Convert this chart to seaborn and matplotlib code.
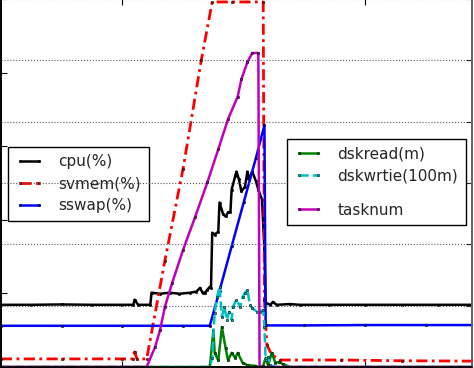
import matplotlib
matplotlib.use("Agg")
import matplotlib.pyplot as plt
import seaborn as sns
from matplotlib.lines import Line2D

# ---- data (time in s; left axis in %, right axis in units) ----
cpu_t = [100, 125, 150, 175, 200, 209, 210, 213, 223, 224, 231, 239, 247, 256, 261, 264, 266, 268,
         270, 272, 273, 274, 276, 279, 280, 283, 285, 287, 289, 290, 293, 294, 296, 298, 301, 303,
         304, 305, 307, 310, 312, 315, 317, 318, 322, 324, 327, 338, 346, 370, 400, 430, 460, 488]
cpu_v = [16.9, 16.9, 17.0, 16.9, 16.9, 16.9, 18.3, 16.9, 16.9, 20.2, 19.9, 20.2, 19.9, 20.2, 20.5,
         21.5, 20.2, 20.2, 21.0, 21.8, 21.5, 36.5, 36.0, 36.8, 44.7, 41.5, 40.9, 42.0, 42.2, 48.2,
         52.0, 53.1, 51.0, 47.7, 49.0, 53.1, 51.0, 51.8, 53.1, 50.5, 48.2, 45.5, 32.0, 17.4, 16.9,
         17.7, 16.9, 17.1, 16.9, 16.9, 16.9, 16.9, 16.9, 16.9]

svmem_t = [100, 150, 200, 209, 210, 212, 220, 235, 250, 265, 274, 290, 316, 317, 319, 323, 330,
           380, 430, 488]
svmem_v = [2.2, 2.2, 2.2, 2.2, 4.1, 2.2, 2.2, 28.9, 53.9, 83.4, 99.2, 99.2, 99.2, 18.3, 6.0, 3.3,
           1.9, 1.9, 1.7, 1.6]

sswap_t = [100, 150, 200, 250, 272, 280, 290, 300, 310, 317, 318, 350, 400, 450, 488]
sswap_v = [11.2, 11.2, 11.2, 11.2, 11.2, 20.7, 32.8, 44.8, 56.8, 65.7, 11.3, 11.3, 11.4, 11.4, 11.4]

dskread_t = [100, 150, 200, 250, 272, 275, 276, 279, 282, 285, 287, 290, 293, 295, 299, 303, 309,
             313, 316, 318, 320, 323, 326, 329, 332, 338, 380, 430, 488]
dskread_v = [0, 0, 0, 0, 0, 6.0, 2.3, 1.1, 6.5, 3.1, 1.1, 2.3, 1.5, 2.3, 0.7, 0.3, 0.2, 0, 0.2,
             1.5, 0.3, 2.3, 0.7, 0.8, 0.5, 0, 0, 0, 0]

dskwrtie_t = [100, 150, 200, 250, 272, 274, 276, 278, 280, 282, 284, 286, 288, 290, 291, 294, 297,
              299, 301, 303, 305, 307, 311, 313, 316, 317, 318, 320, 322, 326, 380, 430, 488]
dskwrtie_v = [0, 0, 0, 0, 0, 1.5, 8.8, 11.4, 13.1, 8.2, 9.8, 7.7, 9.0, 7.7, 9.8, 11.0, 9.8, 11.4,
              12.1, 12.6, 10.1, 9.6, 9.0, 9.0, 9.3, 6.5, 1.1, 1.6, 0.3, 0, 0, 0, 0]

tasknum_t = [100, 150, 200, 220, 227, 231, 235, 241, 250, 260, 270, 279, 287, 295, 298, 303, 307,
             312, 313, 350, 400, 450, 488]
tasknum_v = [0, 0, 0, 0, 3.3, 6.0, 9.8, 13.7, 19.1, 24.5, 30.1, 35.5, 40.4, 44.1, 46.9, 49.7, 51.2,
             51.2, 0, 0, 0, 0, 0]

left_labels = ["cpu(%)", "svmem(%)", "sswap(%)"]
right_labels = ["dskread(m)", "dskwrtie(100m)", "", "tasknum"]

# ---- figure ----
sns.set_style("white")
plt.rcParams["font.family"] = ["DejaVu Sans"]
fig = plt.figure(figsize=(4.74, 3.68), dpi=100)
ax = fig.add_axes([1 / 474, 1 / 368, 471 / 474, 368 / 368])
ax2 = ax.twinx()

mk = dict(marker=".", markersize=3.5, markeredgecolor="k", markeredgewidth=0.4)
common = dict(estimator=None, sort=False, legend=False)
dashdot = (0, (4, 1.6, 1, 1.6))

sns.lineplot(x=cpu_t, y=cpu_v, ax=ax, color="k", linewidth=1.8, **common, **mk)
sns.lineplot(x=svmem_t, y=svmem_v, ax=ax, color="r", linewidth=2.0, linestyle=dashdot, **common, **mk)
sns.lineplot(x=sswap_t, y=sswap_v, ax=ax, color="b", linewidth=1.8, **common, **mk)

sns.lineplot(x=dskread_t, y=dskread_v, ax=ax2, color="g", linewidth=1.8, **common, **mk)
sns.lineplot(x=dskwrtie_t, y=dskwrtie_v, ax=ax2, color="c", linewidth=1.8, linestyle="--", **common, **mk)
sns.lineplot(x=tasknum_t, y=tasknum_v, ax=ax2, color="m", linewidth=1.8, **common, **mk)

ax.set_xlim(100, 488)
ax.set_ylim(0, 100)
ax2.set_ylim(0, 60)
ax.set_xticks([200, 400])
ax.set_yticks([0, 20, 40, 60, 80, 100])
ax2.set_yticks([0, 10, 20, 30, 40, 50, 60])
ax.set_xlabel("")
ax.set_ylabel("")
ax2.set_ylabel("")
ax.tick_params(direction="in", length=4, width=0.8, top=True, bottom=True, left=True, right=False,
               labelleft=False, labelbottom=False, colors="k")
ax2.tick_params(direction="in", length=4, width=0.8, right=True, labelright=False)
ax2.grid(axis="y", linestyle=":", color="0.35", linewidth=0.8)
ax2.grid(axis="x", visible=False)
ax.grid(False)
for a in (ax, ax2):
    for s in a.spines.values():
        s.set_color("k")
        s.set_linewidth(1.2)
ax2.spines["right"].set_color("0.45")

h = ax.get_lines()
leg1 = ax.legend(h[:3], left_labels, loc="upper left", bbox_to_anchor=(0.0149, 0.599),
                 borderaxespad=0, fontsize=11, numpoints=2, fancybox=False, framealpha=1,
                 edgecolor="k", handlelength=1.8, labelspacing=0.45, borderpad=0.5,
                 handletextpad=1.0)
leg1.get_frame().set_linewidth(1.0)
h2 = ax2.get_lines()
blank = Line2D([], [], alpha=0)
leg2 = ax2.legend([h2[0], h2[1], blank, h2[2]], right_labels, loc="upper right",
                  bbox_to_anchor=(0.987, 0.619), borderaxespad=0, fontsize=11, numpoints=2,
                  fancybox=False, framealpha=1, edgecolor="k", handlelength=1.8,
                  labelspacing=0.45, borderpad=0.5, handletextpad=1.0)
leg2.get_frame().set_linewidth(1.0)
# shrink the empty spacer row of the right legend
leg2.get_texts()[2].set_fontsize(4)
try:
    col = leg2._legend_handle_box.get_children()[0]
    spacer_row = col.get_children()[2]
    spacer_row.get_children()[0].height = 3.0
except Exception:
    pass

fig.savefig("out.png", dpi=100)
